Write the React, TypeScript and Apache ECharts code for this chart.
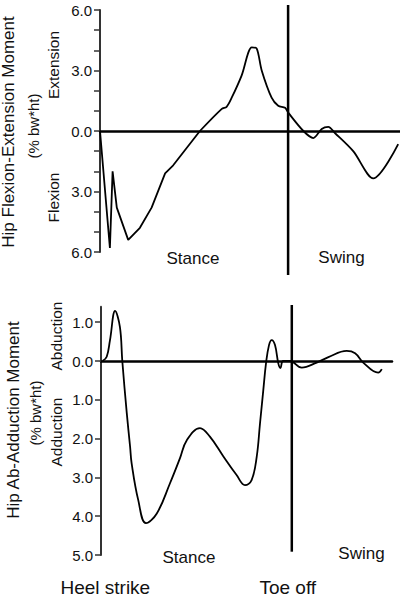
import React, { useEffect, useRef } from "react";
import * as echarts from "echarts";

// Hip flexion-extension moment (% bw*ht), x = % gait cycle
const flexEarlyX = [0, 3.3, 4.2, 5.6, 9.4, 13.3, 17.2, 21.7, 24.4, 33.3];
const flexEarlyY = [0, -5.8, -2.0, -3.8, -5.4, -4.8, -3.8, -2.1, -1.7, 0];
const flexLateX = [33.3, 40.6, 42.2, 43.9, 47.2, 50.6, 52.2, 53.9, 57.2, 59.4, 61.7, 62.8, 67.8, 71.1, 73.9, 76.1, 78.3, 84.4, 91.1, 99.4];
const flexLateY = [0, 1.1, 1.2, 1.65, 2.75, 4.15, 4.1, 3.0, 1.65, 1.25, 1.15, 0.9, 0, -0.35, 0.1, 0.2, -0.1, -1.0, -2.35, -0.65];

// Hip ab-adduction moment (% bw*ht)
const abdX = [0.5, 1.9, 3.0, 4.7, 6.3, 7.1, 8.6, 9.7, 10.2, 12.4, 15.0, 18.6, 23.0, 26.3, 28.6, 33.0, 36.3, 40.8, 45.2, 48.0, 50.2, 51.9, 53.0, 54.1, 55.0, 56.0, 56.9, 58.0, 59.1, 59.8, 60.7, 63.0, 66.9, 71.9, 75.8, 81.9, 84.7, 87.4, 92.4, 93.6];
const abdY = [0, 0.11, 0.54, 1.29, 0.88, 0, -1.35, -2.21, -2.63, -3.58, -4.18, -3.93, -3.15, -2.51, -2.04, -1.73, -1.95, -2.46, -2.94, -3.2, -3.07, -2.47, -1.61, -0.75, -0.06, 0.41, 0.54, 0.41, -0.06, -0.18, 0, 0, -0.17, -0.04, 0.1, 0.26, 0.2, -0.04, -0.3, -0.21];

const toeOffTop = 62.7;
const toeOffBottom = 63.6;

const flexTicks = [-6, -5, -4, -3, -2, -1, 0, 1, 2, 3, 4, 5, 6];
const flexLabels = [-6, -3, 0, 3, 6];
const abdTicks = [-5, -4, -3, -2, -1, 0, 1];

const FONT = "'Liberation Sans', Arial, Helvetica, sans-serif";
const INK = "#111";

const zip = (xs: number[], ys: number[]) => xs.map((x, i) => [x, ys[i]]);

export default function App() {
  const ref = useRef<HTMLDivElement>(null);
  useEffect(() => {
    if (!ref.current) return;
    const chart = echarts.init(ref.current, undefined, { renderer: "svg" });
    const hiddenAxis = (extra: any) => ({
      type: "value",
      show: false,
      splitLine: { show: false },
      ...extra,
    });
    const yAxisBase = (ticks: number[], labels: number[], min: number, max: number, gridIndex: number) => ({
      type: "value",
      gridIndex,
      min,
      max,
      axisLine: { show: true, onZero: false, lineStyle: { color: "#333", width: 2 } },
      axisTick: { show: true, length: 6, customValues: ticks, lineStyle: { color: "#333", width: 1.5 } },
      axisLabel: {
        customValues: labels,
        formatter: (v: number) => Math.abs(v).toFixed(1),
        fontSize: 15,
        color: INK,
        fontFamily: FONT,
        margin: 8,
      },
      splitLine: { show: false },
    });
    const xMain = (gridIndex: number, max: number) => ({
      type: "value",
      gridIndex,
      min: 0,
      max,
      axisLine: { show: true, onZero: true, lineStyle: { color: "#000", width: 2.5 } },
      axisTick: { show: false },
      axisLabel: { show: false },
      splitLine: { show: false },
    });
    const lineStyle = { color: "#000", width: 1.8 };
    const txt = (text: string, x: number, y: number, size: number, rot = 0) => ({
      type: "text",
      x,
      y,
      rotation: rot,
      silent: true,
      style: {
        text,
        fontSize: size,
        fontFamily: FONT,
        fill: INK,
        align: "center",
        verticalAlign: "middle",
      },
    });
    const R = Math.PI / 2;
    chart.setOption({
      animation: false,
      textStyle: { fontFamily: FONT },
      grid: [
        { left: 100, top: 10, width: 300, height: 242 },
        { left: 100, top: 5, width: 300, height: 270 },
        { left: 101, top: 306.7, width: 291, height: 248.3 },
        { left: 101, top: 305, width: 291, height: 246.7 },
      ],
      xAxis: [
        xMain(0, 100),
        hiddenAxis({ gridIndex: 1, min: 0, max: 100 }),
        xMain(2, 97),
        hiddenAxis({ gridIndex: 3, min: 0, max: 97 }),
      ],
      yAxis: [
        yAxisBase(flexTicks, flexLabels, -6, 6, 0),
        hiddenAxis({ gridIndex: 1, min: 0, max: 1 }),
        yAxisBase(abdTicks, abdTicks, -5, 1.4, 2),
        hiddenAxis({ gridIndex: 3, min: 0, max: 1 }),
      ],
      series: [
        { type: "line", xAxisIndex: 0, yAxisIndex: 0, data: zip(flexEarlyX, flexEarlyY), showSymbol: false, smooth: false, lineStyle, silent: true },
        { type: "line", xAxisIndex: 0, yAxisIndex: 0, data: zip(flexLateX, flexLateY), showSymbol: false, smooth: 0.3, lineStyle, silent: true },
        { type: "line", xAxisIndex: 1, yAxisIndex: 1, data: [[toeOffTop, 0], [toeOffTop, 1]], showSymbol: false, lineStyle: { color: "#000", width: 2.5 }, silent: true },
        { type: "line", xAxisIndex: 2, yAxisIndex: 2, data: zip(abdX, abdY), showSymbol: false, smooth: 0.4, lineStyle, silent: true },
        { type: "line", xAxisIndex: 3, yAxisIndex: 3, data: [[toeOffBottom, 0], [toeOffBottom, 1]], showSymbol: false, lineStyle: { color: "#000", width: 2.5 }, silent: true },
      ],
      graphic: [
        txt("Hip Flexion-Extension Moment", 8.5, 132, 17, R),
        txt("(% bw*ht)", 33.5, 126, 15, R),
        txt("Extension", 53.5, 65, 15.5, R),
        txt("Flexion", 53.5, 197.5, 15.5, R),
        txt("Stance", 193, 258, 17),
        txt("Swing", 341.5, 257, 17),
        txt("Hip Ab-Adduction Moment", 13.5, 420, 17, R),
        txt("(% bw*ht)", 35, 413, 15, R),
        txt("Abduction", 56, 336, 15.5, R),
        txt("Adduction", 56, 432, 15.5, R),
        txt("Stance", 189, 557, 17),
        txt("Swing", 361.5, 553, 17),
        txt("Heel strike", 105.3, 587, 19),
        txt("Toe off", 287.8, 587, 19),
      ],
    });
    return () => chart.dispose();
  }, []);
  return (
    <div
      ref={ref}
      style={{ position: "absolute", left: 0, top: 0, width: 400, height: 598, background: "#fff" }}
    />
  );
}
